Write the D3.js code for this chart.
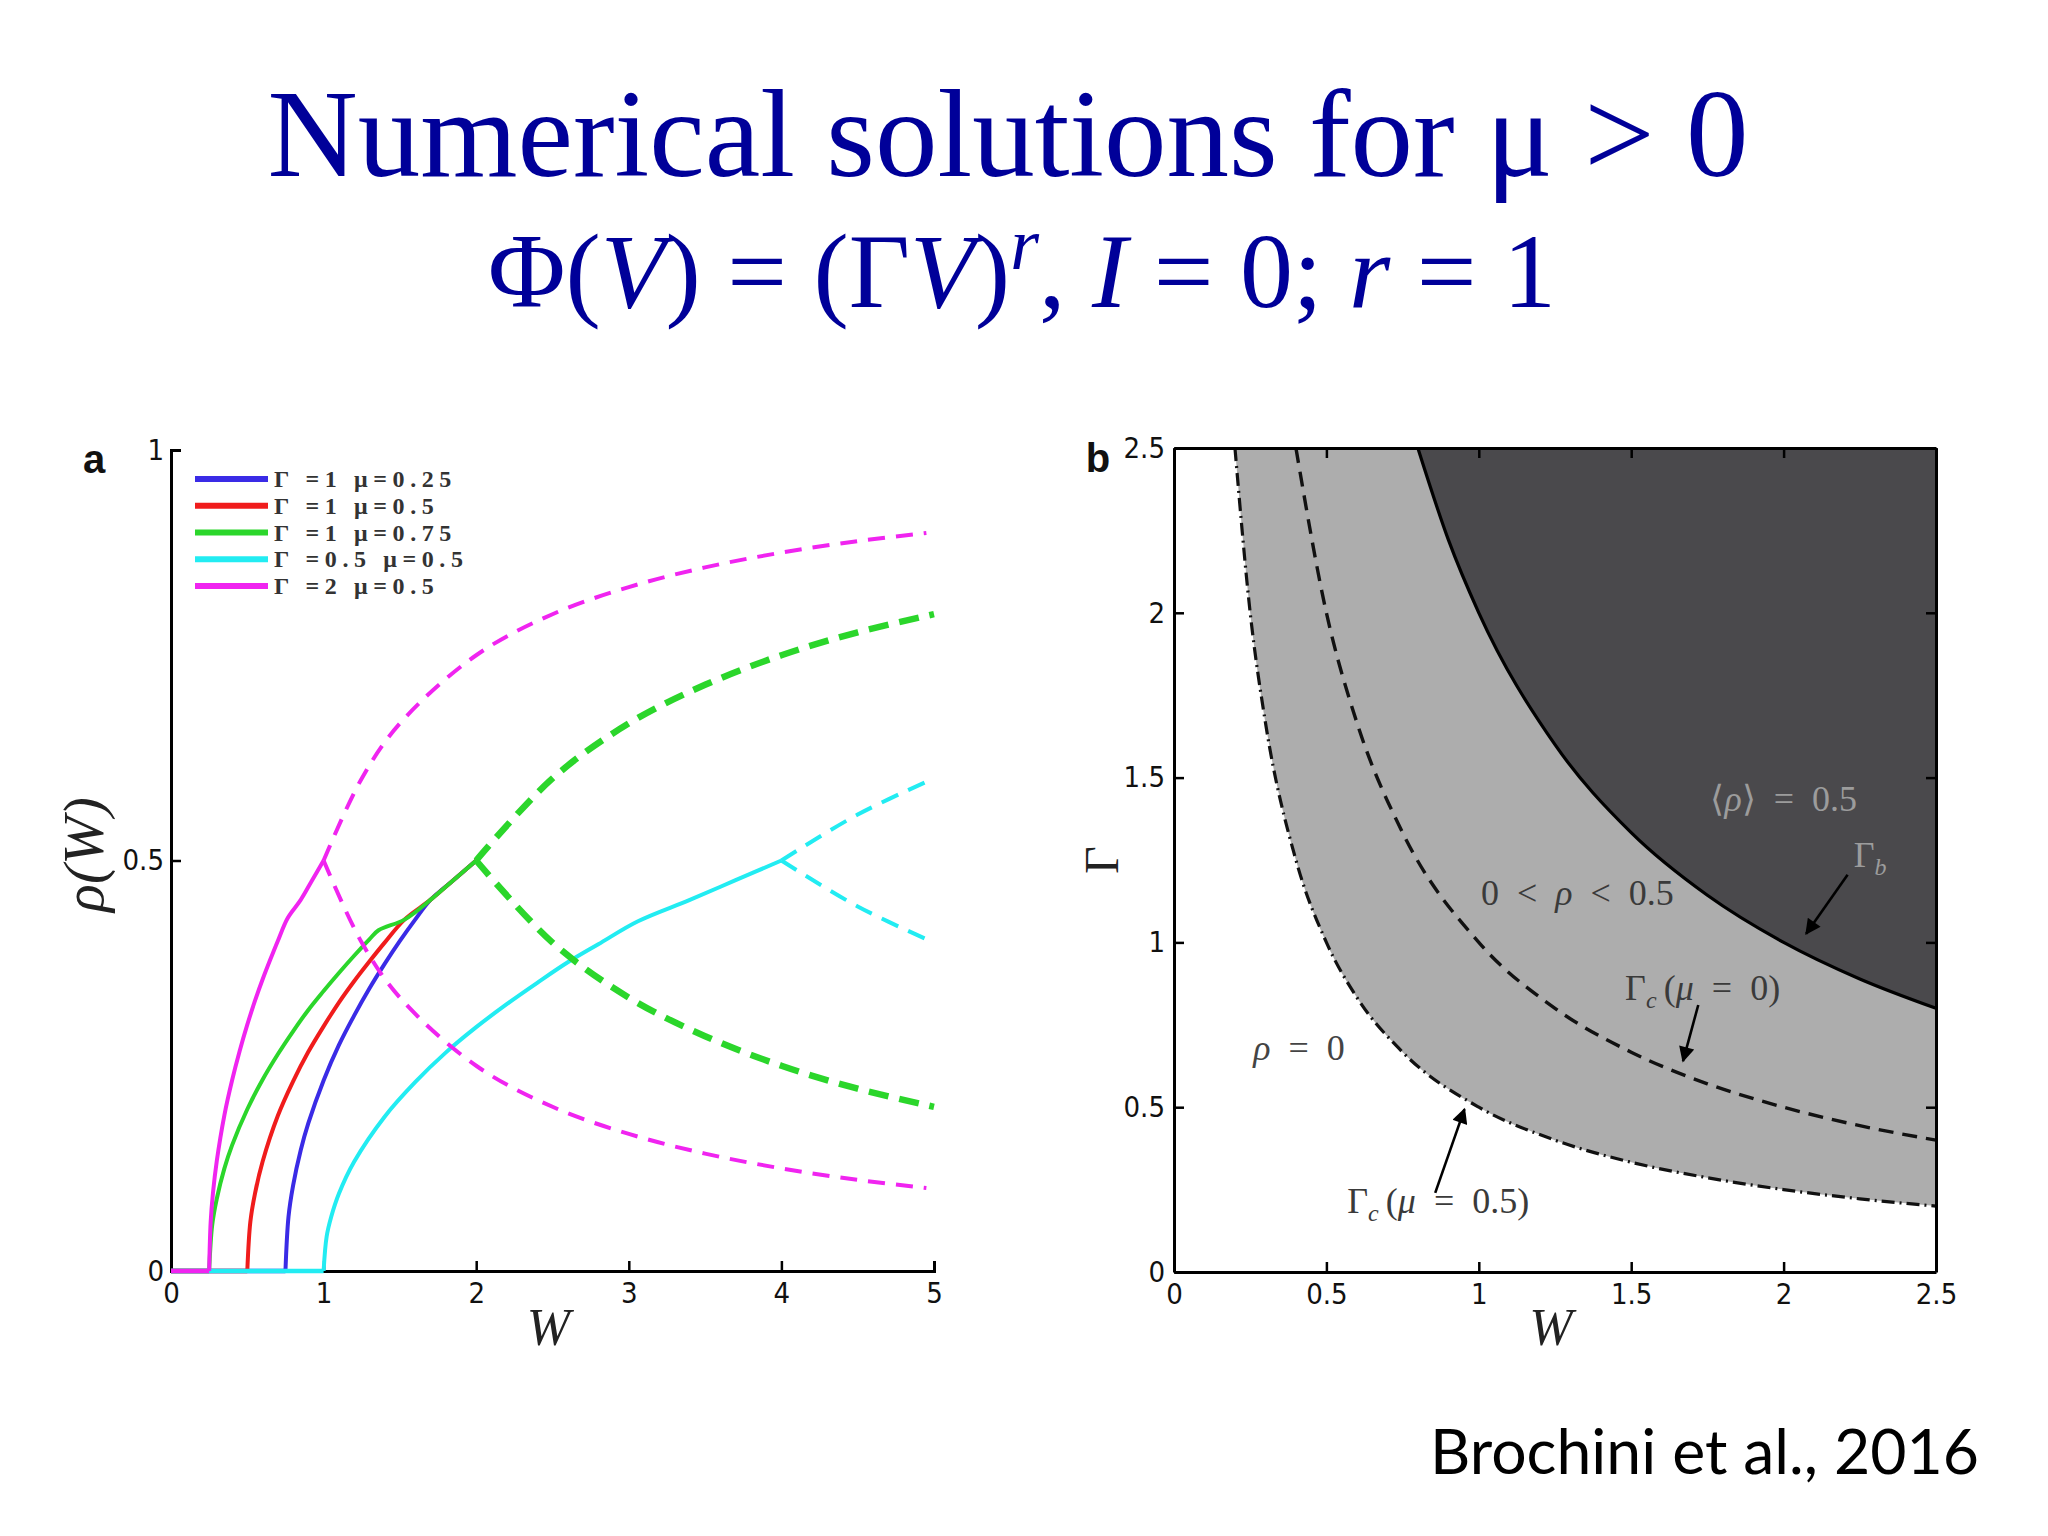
<!DOCTYPE html>
<html><head><meta charset="utf-8">
<script src="https://cdn.jsdelivr.net/npm/d3@7"></script>
<style>body{margin:0;background:#fff}</style>
</head><body>
<svg id="c" width="2048" height="1536" xmlns="http://www.w3.org/2000/svg"></svg>
<script>
// ================= DATA =================
// Panel a : rho(W)
const leftXTicks = [0, 1, 2, 3, 4, 5];
const leftXLabels = ["0", "1", "2", "3", "4", "5"];
const leftYTicks = [0, 0.5, 1];
const leftYLabels = ["0", "0.5", "1"];
const legendLabels = ["Γ =1 μ=0.25", "Γ =1 μ=0.5", "Γ =1 μ=0.75", "Γ =0.5 μ=0.5", "Γ =2 μ=0.5"];

// solid branches (zero part then rising part)
const blueW  = [0, 0.75, 0.77, 0.80, 0.85, 0.90, 1.00, 1.10, 1.20, 1.30, 1.40, 1.50, 1.60, 1.70, 1.85, 2.00];
const blueR  = [0, 0, 0.066, 0.104, 0.147, 0.180, 0.232, 0.275, 0.311, 0.344, 0.374, 0.402, 0.428, 0.452, 0.476, 0.500];
const redW   = [0, 0.50, 0.52, 0.55, 0.60, 0.70, 0.80, 0.90, 1.00, 1.10, 1.20, 1.30, 1.40, 1.53, 1.70, 1.85, 2.00];
const redR   = [0, 0, 0.060, 0.094, 0.133, 0.189, 0.231, 0.267, 0.298, 0.327, 0.353, 0.377, 0.400, 0.428, 0.452, 0.476, 0.500];
const greenW = [0, 0.25, 0.27, 0.30, 0.35, 0.40, 0.50, 0.60, 0.70, 0.80, 0.90, 1.00, 1.10, 1.20, 1.30, 1.36, 1.53, 1.70, 1.85, 2.00];
const greenR = [0, 0, 0.056, 0.088, 0.125, 0.153, 0.197, 0.233, 0.264, 0.292, 0.318, 0.341, 0.363, 0.384, 0.404, 0.415, 0.428, 0.452, 0.476, 0.500];
const cyanW  = [0, 1.00, 1.02, 1.05, 1.10, 1.20, 1.40, 1.60, 1.80, 2.00, 2.20, 2.40, 2.60, 2.80, 3.06, 3.40, 3.70, 4.00];
const cyanR  = [0, 0, 0.042, 0.066, 0.094, 0.133, 0.188, 0.230, 0.266, 0.297, 0.325, 0.351, 0.376, 0.398, 0.426, 0.452, 0.476, 0.500];
const magW   = [0, 0.25, 0.26, 0.275, 0.30, 0.35, 0.40, 0.45, 0.50, 0.55, 0.60, 0.65, 0.70, 0.765, 0.85, 0.925, 1.00];
const magR   = [0, 0, 0.060, 0.095, 0.134, 0.190, 0.232, 0.268, 0.300, 0.329, 0.355, 0.379, 0.402, 0.430, 0.452, 0.476, 0.500];

// dashed branches
const magDashW   = [1, 1.25, 1.5, 2, 2.5, 3, 3.5, 4, 4.5, 4.95];
const magUpR     = [0.5, 0.6, 0.667, 0.75, 0.8, 0.833, 0.857, 0.875, 0.889, 0.899];
const magLoR     = [0.5, 0.4, 0.333, 0.25, 0.2, 0.167, 0.143, 0.125, 0.111, 0.101];
const greenDashW = [2, 2.5, 3, 3.5, 4, 4.5, 5];
const greenUpR   = [0.5, 0.6, 0.667, 0.714, 0.75, 0.778, 0.8];
const greenLoR   = [0.5, 0.4, 0.333, 0.286, 0.25, 0.222, 0.2];
const cyanDashW  = [4, 4.5, 5];
const cyanUpR    = [0.5, 0.556, 0.6];
const cyanLoR    = [0.5, 0.444, 0.4];

// Panel b : Gamma(W)
const rightTicks = [0, 0.5, 1, 1.5, 2, 2.5];
const rightLabels = ["0", "0.5", "1", "1.5", "2", "2.5"];
const gcMu05W = [0.2, 0.25, 0.3, 0.4, 0.5, 0.6, 0.75, 1.0, 1.25, 1.5, 1.75, 2.0, 2.25, 2.5];
const gcMu05G = [2.5, 2.0, 1.667, 1.25, 1.0, 0.833, 0.667, 0.5, 0.4, 0.333, 0.286, 0.25, 0.222, 0.2];
const gcMu0W  = [0.4, 0.5, 0.6, 0.75, 1.0, 1.25, 1.5, 1.75, 2.0, 2.25, 2.5];
const gcMu0G  = [2.5, 2.0, 1.667, 1.333, 1.0, 0.8, 0.667, 0.571, 0.5, 0.444, 0.4];
const gbW     = [0.8, 0.9, 1.0, 1.25, 1.5, 1.75, 2.0, 2.25, 2.5];
const gbG     = [2.5, 2.222, 2.0, 1.6, 1.333, 1.143, 1.0, 0.889, 0.8];

// ================= DRAW =================
const svg = d3.select("#c");
svg.append("rect").attr("width", 2048).attr("height", 1536).attr("fill", "#fff");

const serif = "'Liberation Serif','Times New Roman',serif";
const tickFont = "'DejaVu Sans Condensed','Liberation Sans Narrow',Arial,sans-serif";
const sans = "'Liberation Sans',Arial,sans-serif";

// ---- title ----
svg.append("text").attr("x", 1008).attr("y", 176).attr("text-anchor", "middle")
  .attr("font-family", serif).attr("font-size", 125).attr("fill", "#000099")
  .text("Numerical solutions for μ > 0");

const t2 = svg.append("text").attr("x", 1022).attr("y", 307).attr("text-anchor", "middle")
  .attr("font-family", serif).attr("font-size", 106).attr("fill", "#000099");
const parts = [["Φ(", ""], ["V", "i"], [") = (Γ", ""], ["V", "i"], [")", ""], ["r", "sup"],
  [", ", "back"], ["I", "i"], [" = 0; ", ""], ["r", "i"], [" = 1", ""]];
parts.forEach(([s, k]) => {
  const ts = t2.append("tspan").text(s);
  if (k === "i") ts.attr("font-style", "italic");
  if (k === "sup") ts.attr("font-style", "italic").attr("font-size", 74).attr("dy", -38);
  if (k === "back") ts.attr("dy", 38);
});

// citation
svg.append("text").attr("x", 1979).attr("y", 1474).attr("text-anchor", "end")
  .attr("font-family", "Lato,'Open Sans',sans-serif").attr("font-size", 62).attr("fill", "#000")
  .attr("textLength", 549).attr("lengthAdjust", "spacingAndGlyphs")
  .text("Brochini et al., 2016");

// ---- panel a ----
const xL = d3.scaleLinear().domain([0, 5]).range([171, 934]);
const yL = d3.scaleLinear().domain([0, 1]).range([1271, 450]);

function styleAxis(g, fs) {
  g.attr("font-family", tickFont).attr("font-size", fs).attr("color", "#000");
  g.select(".domain").attr("stroke-width", 3);
  g.selectAll(".tick line").attr("stroke-width", 2.5);
  g.selectAll(".tick text").attr("fill", "#111");
}

const gxL = svg.append("g").attr("transform", `translate(0,${yL(0)})`)
  .call(d3.axisBottom(xL).tickValues(leftXTicks).tickFormat((d, i) => leftXLabels[i])
    .tickSizeInner(-10).tickSizeOuter(-10).tickPadding(11));
styleAxis(gxL, 29);
const gyL = svg.append("g").attr("transform", `translate(${xL(0)},0)`)
  .call(d3.axisLeft(yL).tickValues(leftYTicks).tickFormat((d, i) => leftYLabels[i])
    .tickSizeInner(-10).tickSizeOuter(-10).tickPadding(7));
styleAxis(gyL, 29);

svg.append("text").attr("x", 94).attr("y", 473).attr("font-family", sans).attr("font-weight", "bold")
  .attr("font-size", 40).attr("fill", "#111").attr("text-anchor", "middle").text("a");

// axis labels
svg.append("text").attr("transform", `translate(103,${yL(0.5) - 6}) rotate(-90)`).attr("text-anchor", "middle")
  .attr("font-family", serif).attr("font-style", "italic").attr("font-size", 58).attr("fill", "#222")
  .text("ρ(W)");
svg.append("text").attr("x", xL(2.5) - 4).attr("y", 1345).attr("text-anchor", "middle")
  .attr("font-family", serif).attr("font-style", "italic").attr("font-size", 52).attr("fill", "#222")
  .text("W");

const colors = { blue: "#3a2be6", red: "#f01c1c", green: "#2bd62b", cyan: "#22ecf2", mag: "#f024f0" };
const plotA = svg.append("g");
const lineLin = d3.line().x(d => xL(d[0])).y(d => yL(d[1]));
const lineCurve = d3.line().x(d => xL(d[0])).y(d => yL(d[1])).curve(d3.curveCatmullRom.alpha(0.5));

function drawSolid(W, R, col) {
  const pts = W.map((w, i) => [w, R[i]]);
  const zeroPts = pts.filter(p => p[1] === 0);
  const riseStart = pts.findIndex(p => p[1] > 0) - 1;
  const rise = pts.slice(riseStart);
  plotA.append("path").attr("d", lineLin(zeroPts)).attr("fill", "none")
    .attr("stroke", col).attr("stroke-width", 4.5);
  plotA.append("path").attr("d", lineCurve(rise)).attr("fill", "none")
    .attr("stroke", col).attr("stroke-width", 4).attr("stroke-linejoin", "round");
}
drawSolid(blueW, blueR, colors.blue);
drawSolid(redW, redR, colors.red);
drawSolid(greenW, greenR, colors.green);
drawSolid(cyanW, cyanR, colors.cyan);
drawSolid(magW, magR, colors.mag);

function drawDash(W, R, col, w, dash) {
  const pts = W.map((x, i) => [x, R[i]]);
  plotA.append("path").attr("d", lineCurve(pts)).attr("fill", "none")
    .attr("stroke", col).attr("stroke-width", w).attr("stroke-dasharray", dash);
}
drawDash(magDashW, magUpR, colors.mag, 4, "17,11");
drawDash(magDashW, magLoR, colors.mag, 4, "17,11");
drawDash(greenDashW, greenUpR, colors.green, 6.5, "20,11");
drawDash(greenDashW, greenLoR, colors.green, 6.5, "20,11");
drawDash(cyanDashW, cyanUpR, colors.cyan, 4, "18,11");
drawDash(cyanDashW, cyanLoR, colors.cyan, 4, "18,11");

// legend
const legCols = [colors.blue, colors.red, colors.green, colors.cyan, colors.mag];
const legY = d3.scaleLinear().domain([0, 4]).range([479, 586]);
legendLabels.forEach((lab, i) => {
  svg.append("line").attr("x1", 195).attr("x2", 268).attr("y1", legY(i)).attr("y2", legY(i))
    .attr("stroke", legCols[i]).attr("stroke-width", 6);
  svg.append("text").attr("x", 274).attr("y", legY(i) + 8).attr("font-family", serif)
    .attr("font-size", 24).attr("font-weight", "bold").attr("fill", "#333")
    .attr("letter-spacing", 5.6).text(lab);
});

// ---- panel b ----
const xR = d3.scaleLinear().domain([0, 2.5]).range([1174, 1936]);
const yR = d3.scaleLinear().domain([0, 2.5]).range([1272, 448]);
const plotB = svg.append("g");
const areaTop = d3.area().x(d => xR(d[0])).y0(yR(2.5)).y1(d => yR(d[1])).curve(d3.curveMonotoneX);
const lineR = d3.line().x(d => xR(d[0])).y(d => yR(d[1])).curve(d3.curveMonotoneX);
const ptsC05 = gcMu05W.map((w, i) => [w, gcMu05G[i]]);
const ptsC0 = gcMu0W.map((w, i) => [w, gcMu0G[i]]);
const ptsB = gbW.map((w, i) => [w, gbG[i]]);

plotB.append("path").attr("d", areaTop(ptsC05)).attr("fill", "#adadad");
plotB.append("path").attr("d", areaTop(ptsB)).attr("fill", "#4a494c");
plotB.append("path").attr("d", lineR(ptsC05)).attr("fill", "none").attr("stroke", "#111")
  .attr("stroke-width", 3.2).attr("stroke-dasharray", "13,5,2,5");
plotB.append("path").attr("d", lineR(ptsC0)).attr("fill", "none").attr("stroke", "#111")
  .attr("stroke-width", 3.4).attr("stroke-dasharray", "15,9");
plotB.append("path").attr("d", lineR(ptsB)).attr("fill", "none").attr("stroke", "#000")
  .attr("stroke-width", 3.2);

const gxR = svg.append("g").attr("transform", `translate(0,${yR(0)})`)
  .call(d3.axisBottom(xR).tickValues(rightTicks).tickFormat((d, i) => rightLabels[i])
    .tickSizeInner(-10).tickSizeOuter(0).tickPadding(11));
styleAxis(gxR, 29);
const gyR = svg.append("g").attr("transform", `translate(${xR(0)},0)`)
  .call(d3.axisLeft(yR).tickValues(rightTicks).tickFormat((d, i) => rightLabels[i])
    .tickSizeInner(-10).tickSizeOuter(0).tickPadding(9));
styleAxis(gyR, 29);
const gtR = svg.append("g").attr("transform", `translate(0,${yR(2.5)})`)
  .call(d3.axisTop(xR).tickValues(rightTicks).tickFormat("").tickSizeInner(-10).tickSizeOuter(0));
styleAxis(gtR, 29);
const grR = svg.append("g").attr("transform", `translate(${xR(2.5)},0)`)
  .call(d3.axisRight(yR).tickValues(rightTicks).tickFormat("").tickSizeInner(-10).tickSizeOuter(0));
styleAxis(grR, 29);

svg.append("text").attr("x", 1098).attr("y", 472).attr("font-family", sans).attr("font-weight", "bold")
  .attr("font-size", 40).attr("fill", "#111").attr("text-anchor", "middle").text("b");

svg.append("text").attr("transform", `translate(1118,${yR(1.25)}) rotate(-90)`).attr("text-anchor", "middle")
  .attr("font-family", serif).attr("font-size", 48).attr("fill", "#222").text("Γ");
svg.append("text").attr("x", xR(1.25) - 4).attr("y", 1345).attr("text-anchor", "middle")
  .attr("font-family", serif).attr("font-style", "italic").attr("font-size", 52).attr("fill", "#222")
  .text("W");

// annotations
const E = "\u2002";
const notes = [
  { w: 1.76, g: 1.40, col: "#9c9c9c", parts: [["⟨", ""], ["ρ", "i"], ["⟩" + E + "=" + E + "0.5", ""]] },
  { w: 2.23, g: 1.23, col: "#9c9c9c", parts: [["Γ", ""], ["b", "sub"]] },
  { w: 1.007, g: 1.113, col: "#3a3a3a", parts: [["0" + E + "<" + E, ""], ["ρ", "i"], [E + "<" + E + "0.5", ""]] },
  { w: 1.48, g: 0.825, col: "#3a3a3a", parts: [["Γ", ""], ["c", "sub"], ["\u2009(", "back"], ["μ", "i"], [E + "=" + E + "0)", ""]] },
  { w: 0.26, g: 0.642, col: "#444", parts: [["ρ", "i"], [E + "=" + E + "0", ""]] },
  { w: 0.568, g: 0.18, col: "#3a3a3a", parts: [["Γ", ""], ["c", "sub"], ["\u2009(", "back"], ["μ", "i"], [E + "=" + E + "0.5)", ""]] }
];
notes.forEach(n => {
  const t = svg.append("text").attr("x", xR(n.w)).attr("y", yR(n.g)).attr("font-family", serif)
    .attr("font-size", 36).attr("fill", n.col);
  n.parts.forEach(([s, k]) => {
    const ts = t.append("tspan").text(s);
    if (k === "i") ts.attr("font-style", "italic");
    if (k === "sub") ts.attr("font-style", "italic").attr("font-size", 24).attr("dy", 8);
    if (k === "back") ts.attr("dy", -8);
  });
});

// arrows
const defs = svg.append("defs");
defs.append("marker").attr("id", "ah").attr("viewBox", "0 0 10 10").attr("refX", 9).attr("refY", 5)
  .attr("markerWidth", 7).attr("markerHeight", 6).attr("markerUnits", "strokeWidth").attr("orient", "auto")
  .append("path").attr("d", "M0,0 L10,5 L0,10 z").attr("fill", "#000");
const arrows = [[2.21, 1.205, 2.074, 1.026], [1.72, 0.81, 1.67, 0.64], [0.857, 0.24, 0.953, 0.494]];
arrows.forEach(a => {
  svg.append("line").attr("x1", xR(a[0])).attr("y1", yR(a[1])).attr("x2", xR(a[2])).attr("y2", yR(a[3]))
    .attr("stroke", "#000").attr("stroke-width", 2.6).attr("marker-end", "url(#ah)");
});
</script>
</body></html>
